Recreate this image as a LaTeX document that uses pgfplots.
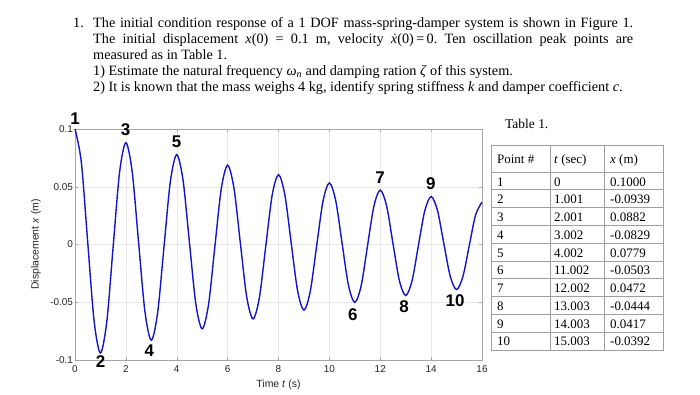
\documentclass[border=0pt]{standalone}
\usepackage{fontspec}
\setmainfont{Liberation Serif}
\setsansfont{Liberation Sans}
\usepackage{pgfplots}
\pgfplotsset{compat=1.18}
\begin{document}
\frenchspacing
\begin{tikzpicture}[x=1bp,y=1bp]
\useasboundingbox (0,0) rectangle (700,394);
\fill[white] (0,0) rectangle (700,394);
% ---- problem text ----
\node[anchor=base west, inner sep=0] at (73,366.7) {\fontsize{14.3}{16.1}\selectfont 1.};
\node[anchor=base west, inner sep=0, text width=540bp, align=justify,
      font=\fontsize{14.3}{16.1}\selectfont] at (93,366.7)
 {\setlength\parindent{0pt}\setlength\parskip{0pt}\frenchspacing%
 The initial condition response of a 1 DOF mass-spring-damper system is shown in Figure 1.\linebreak
 The initial displacement \textit{x}(0) = 0.1 m, velocity \textit{\.x}(0)\,=\,0. Ten oscillation peak points are\linebreak
 measured as in Table 1.\par
 1) Estimate the natural frequency \textit{ω\textsubscript{n}} and damping ration \textit{ζ} of this system.\par
 2) It is known that the mass weighs 4 kg, identify spring stiffness \textit{k} and damper coefficient \textit{c}.};
% ---- plot ----
\begin{axis}[
  at={(75bp,34bp)}, anchor=south west,
  scale only axis, width=407bp, height=231bp,
  xmin=0, xmax=16, ymin=-0.1, ymax=0.1,
  xtick={0,2,...,16}, xticklabels={0,2,4,6,8,10,12,14,16},
  ytick={-0.1,-0.05,0,0.05,0.1}, yticklabels={-0.1,-0.05,0,0.05,0.1},
  xtick pos=both, ytick pos=both, tick align=inside,
  major tick length=3bp,
  axis line style={gray!70, line width=0.6bp},
  tick style={gray!70, line width=0.5bp},
  grid=major, major grid style={gray!18, line width=0.5bp},
  tick label style={font=\sffamily\fontsize{10}{11}\selectfont, text=black!85},
  xticklabel style={yshift=-2bp},
  yticklabel style={xshift=1.5bp},
  xlabel={Time \textit{t} (s)},
  ylabel={Displacement \textit{x} (m)},
  label style={font=\sffamily\fontsize{10.5}{12}\selectfont, text=black!85},
  xlabel style={at={(axis description cs:0.5,-0.108)}, anchor=center},
  ylabel style={at={(axis description cs:-0.096,0.5)}, anchor=center, rotate=0},
  clip=false,
]
\addplot[smooth, line width=1.4bp, color={rgb,1:red,0.08;green,0.08;blue,0.8}] coordinates {
(0,0.1000) (0.25,0.07100) (0.5,0.00194) (0.75,-0.06611)
(1,-0.09391) (1.25,-0.06668) (1.5,-0.00182) (1.75,0.06209)
(2,0.08820) (2.25,0.06262) (2.5,0.00171) (2.75,-0.05831)
(3,-0.08283) (3.25,-0.05881) (3.5,-0.00161) (3.75,0.05476)
(4,0.07779) (4.25,0.05523) (4.5,0.00151) (4.75,-0.05143)
(5,-0.07305) (5.25,-0.05186) (5.5,-0.00142) (5.75,0.04830)
(6,0.06860) (6.25,0.04871) (6.5,0.00133) (6.75,-0.04536)
(7,-0.06443) (7.25,-0.04574) (7.5,-0.00125) (7.75,0.04260)
(8,0.06051) (8.25,0.04296) (8.5,0.00117) (8.75,-0.04000)
(9,-0.05682) (9.25,-0.04034) (9.5,-0.00110) (9.75,0.03757)
(10,0.05337) (10.25,0.03789) (10.5,0.00103) (10.75,-0.03528)
(11,-0.05012) (11.25,-0.03558) (11.5,-0.00097) (11.75,0.03313)
(12,0.04707) (12.25,0.03342) (12.5,0.00091) (12.75,-0.03112)
(13,-0.04420) (13.25,-0.03138) (13.5,-0.00086) (13.75,0.02922)
(14,0.04151) (14.25,0.02947) (14.5,0.00080) (14.75,-0.02744)
(15,-0.03898) (15.25,-0.02768) (15.5,-0.00076) (15.75,0.02577)
(16,0.03661)
};
\tikzset{pk/.style={font=\sffamily\bfseries\fontsize{17}{17}\selectfont, inner sep=0}}
\node[pk] at (axis cs:0.0,0.1093) {1};
\node[pk] at (axis cs:1.01,-0.1015) {2};
\node[pk] at (axis cs:1.99,0.0991) {3};
\node[pk] at (axis cs:2.92,-0.092) {4};
\node[pk] at (axis cs:3.99,0.089) {5};
\node[pk] at (axis cs:10.92,-0.061) {6};
\node[pk] at (axis cs:11.99,0.0582) {7};
\node[pk] at (axis cs:12.94,-0.0538) {8};
\node[pk] at (axis cs:13.99,0.0524) {9};
\node[pk] at (axis cs:14.94,-0.0487) {10};
\end{axis}
% ---- table ----
\node[anchor=base west, inner sep=0, font=\fontsize{13.5}{15}\selectfont] at (505,266) {Table 1.};
\draw[gray!75, line width=0.9bp] (491,249) rectangle (663,44);
\foreach \k in {0,...,9} \draw[gray!75, line width=0.9bp] (491,222-\k*17.8) -- (663,222-\k*17.8);
\draw[gray!75, line width=0.9bp] (550,249) -- (550,44);
\draw[gray!75, line width=0.9bp] (604,249) -- (604,44);
\begin{scope}[every node/.style={anchor=base west, inner sep=0, font=\fontsize{13}{15}\selectfont}]
\node at (497,231) {Point \#};
\node at (554,231) {\textit{t} (sec)};
\node at (610,231) {\textit{x} (m)};
\foreach \p/\t/\x [count=\i from 0] in {1/0/0.1000, 2/1.001/-0.0939, 3/2.001/0.0882, 4/3.002/-0.0829, 5/4.002/0.0779, 6/11.002/-0.0503, 7/12.002/0.0472, 8/13.003/-0.0444, 9/14.003/0.0417, 10/15.003/-0.0392} {
  \node at (497,208-\i*17.75) {\p};
  \node at (554,208-\i*17.75) {\t};
  \node at (610,208-\i*17.75) {\x};
}
\end{scope}
\end{tikzpicture}
\end{document}
